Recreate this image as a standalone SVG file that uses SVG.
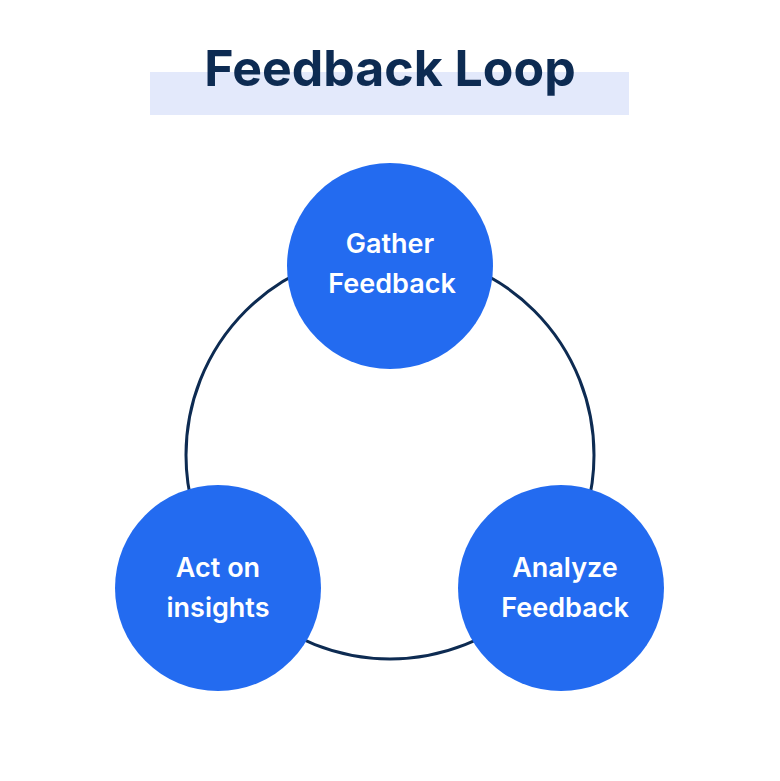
<svg xmlns="http://www.w3.org/2000/svg" width="780" height="781" viewBox="0 0 780 781">
<style>
.n{fill:#236bf0}
.t{fill:#fff;font-family:Inter,"Liberation Sans",sans-serif;font-weight:600;font-size:27px;text-anchor:middle}
</style>
<rect width="780" height="781" fill="#fff"/>
<rect x="150" y="72" width="479" height="43" fill="#e3e9fb"/>
<text x="390" y="86" font-family="Inter,'Liberation Sans',sans-serif" font-weight="700" font-size="50" fill="#0d2b52" text-anchor="middle">Feedback Loop</text>
<g id="connectors"><circle cx="390" cy="455" r="204" fill="none" stroke="#0d2b52" stroke-width="3"/></g>
<g id="gather"><circle class="n" cx="390" cy="266" r="103"/><text class="t" x="390" y="253">Gather</text><text class="t" x="392" y="293">Feedback</text></g>
<g id="act"><circle class="n" cx="218" cy="588" r="103"/><text class="t" x="218" y="577">Act on</text><text class="t" x="218" y="617">insights</text></g>
<g id="analyze"><circle class="n" cx="561" cy="588" r="103"/><text class="t" x="565" y="577">Analyze</text><text class="t" x="565" y="617">Feedback</text></g>
</svg>
